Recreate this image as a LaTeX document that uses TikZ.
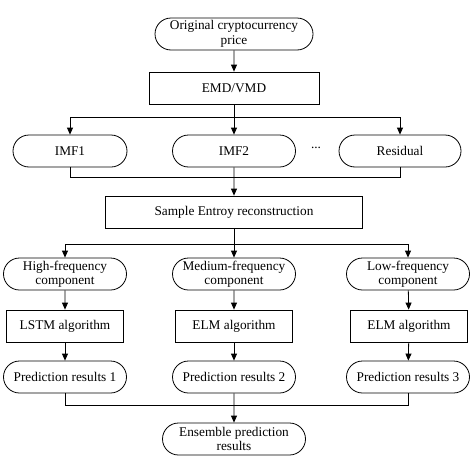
\documentclass[tikz,border=0pt]{standalone}
\usepackage{fontspec}
\setmainfont{Liberation Serif}
\usetikzlibrary{shapes.misc,arrows.meta}
\tikzset{
  pill/.style={draw, rounded rectangle, minimum width=125pt, minimum height=32pt, inner sep=1pt, align=center, font=\fontsize{13.3}{14.5}\selectfont},
  box/.style={draw, rectangle, minimum height=32pt, inner sep=1pt, align=center, font=\fontsize{13.3}{14.5}\selectfont},
  >={Triangle[width=6pt,length=7pt]}
}
\begin{document}
\begin{tikzpicture}[x=1pt, y=-1pt, line width=0.8pt]
        \useasboundingbox (0,0) rectangle (474,474);
        \node[pill, minimum width=160pt] (orig) at (234, 34) {Original cryptocurrency\\price};
        \node[box, minimum width=170pt] (emd) at (234, 88) {EMD/VMD};
        \node[pill, minimum width=116pt] (imf1) at (70, 151) {IMF1};
        \node[pill] (imf2) at (234, 151) {IMF2};
        \node (dots) at (316, 148) {\fontsize{13.3}{14.5}\selectfont ...};
        \node[pill, minimum width=124pt] (res) at (400, 151) {Residual};
        \node[box, minimum width=257pt] (sample) at (234, 212) {Sample Entroy reconstruction};
        \node[pill] (high) at (65, 274) {High-frequency\\component};
        \node[pill] (medium) at (234, 274) {Medium-frequency\\component};
        \node[pill] (low) at (408, 274) {Low-frequency\\component};
        \node[box, minimum width=117pt] (lstm) at (65, 326) {LSTM algorithm};
        \node[box, minimum width=117pt] (elm1) at (234, 326) {ELM algorithm};
        \node[box, minimum width=117pt] (elm2) at (409, 326) {ELM algorithm};
        \node[pill] (pred1) at (65, 377) {Prediction results 1};
        \node[pill] (pred2) at (234, 377) {Prediction results 2};
        \node[pill] (pred3) at (408, 377) {Prediction results 3};
        \node[pill, minimum width=145pt] (ens) at (234, 439) {Ensemble prediction\\results};
        \coordinate (split1) at (234, 117);
        \coordinate (merge1) at (234, 177);
        \coordinate (split2) at (234, 244);
        \coordinate (merge2) at (234, 405);
        \draw[->] (orig) -- (emd);
        \draw (emd) -- (split1);
        \draw[->] (split1) -| (imf1);
        \draw[->] (split1) -- (imf2);
        \draw[->] (split1) -| (res);
        \draw (imf1) |- (merge1);
        \draw (res) |- (merge1);
        \draw[->] (imf2) -- (sample);
        \draw (sample) -- (split2);
        \draw[->] (split2) -| (high);
        \draw[->] (split2) -- (medium);
        \draw[->] (split2) -| (low);
        \draw[->] (high) -- (lstm);
        \draw[->] (medium) -- (elm1);
        \draw[->] (low) -- (elm2);
        \draw[->] (lstm) -- (pred1);
        \draw[->] (elm1) -- (pred2);
        \draw[->] (elm2) -- (pred3);
        \draw (pred1) |- (merge2);
        \draw (pred3) |- (merge2);
        \draw[->] (pred2) -- (ens);
      \end{tikzpicture}
\end{document}
